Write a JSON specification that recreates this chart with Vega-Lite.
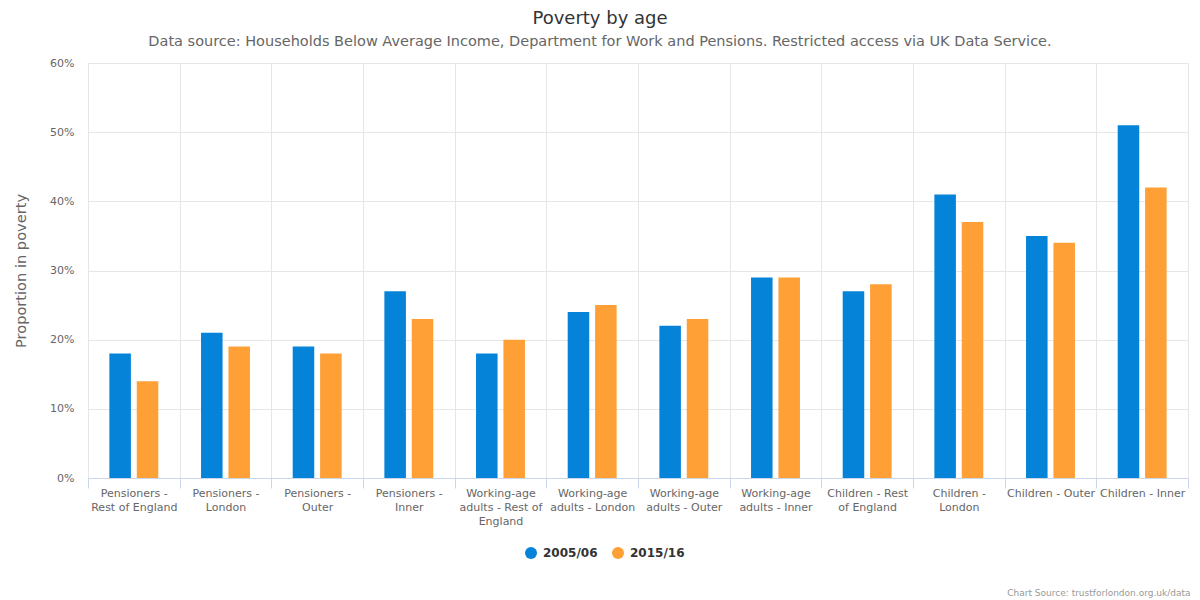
{
  "$schema": "https://vega.github.io/schema/vega-lite/v6.json",
  "autosize": "none",
  "width": 1100,
  "height": 415,
  "padding": {"left": 88, "top": 63, "right": 12, "bottom": 122},
  "background": "white",
  "config": {
    "font": "DejaVu Sans",
    "view": {"stroke": null}
  },
  "title": {
    "text": "Poverty by age",
    "subtitle": "Data source: Households Below Average Income, Department for Work and Pensions. Restricted access via UK Data Service.",
    "anchor": "middle",
    "dx": -38,
    "offset": 9,
    "fontSize": 18,
    "fontWeight": "normal",
    "color": "#333333",
    "subtitleFontSize": 14.5,
    "subtitleColor": "#666666",
    "subtitlePadding": 7
  },
  "data": {
    "values": [
      {"category": "Pensioners - Rest of England", "year": "2005/06", "value": 0.18},
      {"category": "Pensioners - Rest of England", "year": "2015/16", "value": 0.14},
      {"category": "Pensioners - London", "year": "2005/06", "value": 0.21},
      {"category": "Pensioners - London", "year": "2015/16", "value": 0.19},
      {"category": "Pensioners - Outer", "year": "2005/06", "value": 0.19},
      {"category": "Pensioners - Outer", "year": "2015/16", "value": 0.18},
      {"category": "Pensioners - Inner", "year": "2005/06", "value": 0.27},
      {"category": "Pensioners - Inner", "year": "2015/16", "value": 0.23},
      {"category": "Working-age adults - Rest of England", "year": "2005/06", "value": 0.18},
      {"category": "Working-age adults - Rest of England", "year": "2015/16", "value": 0.20},
      {"category": "Working-age adults - London", "year": "2005/06", "value": 0.24},
      {"category": "Working-age adults - London", "year": "2015/16", "value": 0.25},
      {"category": "Working-age adults - Outer", "year": "2005/06", "value": 0.22},
      {"category": "Working-age adults - Outer", "year": "2015/16", "value": 0.23},
      {"category": "Working-age adults - Inner", "year": "2005/06", "value": 0.29},
      {"category": "Working-age adults - Inner", "year": "2015/16", "value": 0.29},
      {"category": "Children - Rest of England", "year": "2005/06", "value": 0.27},
      {"category": "Children - Rest of England", "year": "2015/16", "value": 0.28},
      {"category": "Children - London", "year": "2005/06", "value": 0.41},
      {"category": "Children - London", "year": "2015/16", "value": 0.37},
      {"category": "Children - Outer", "year": "2005/06", "value": 0.35},
      {"category": "Children - Outer", "year": "2015/16", "value": 0.34},
      {"category": "Children - Inner", "year": "2005/06", "value": 0.51},
      {"category": "Children - Inner", "year": "2015/16", "value": 0.42}
    ]
  },
  "mark": {"type": "bar"},
  "encoding": {
    "x": {
      "field": "category",
      "type": "nominal",
      "sort": null,
      "scale": {"paddingInner": 0, "paddingOuter": 0},
      "axis": {
        "title": "Chart Source: trustforlondon.org.uk/data",
        "titleX": 1102,
        "titleY": 114,
        "titleAlign": "right",
        "titleBaseline": "middle",
        "titleFontSize": 9,
        "titleFontWeight": "normal",
        "titleColor": "#999999",
        "labelAngle": 0,
        "labelFontSize": 11,
        "labelColor": "#666666",
        "labelLineHeight": 14,
        "labelBaseline": "top",
        "labelPadding": -1,
        "labelLimit": 200,
        "labelExpr": "{'Pensioners - Rest of England': ['Pensioners -', 'Rest of England'], 'Pensioners - London': ['Pensioners -', 'London'], 'Pensioners - Outer': ['Pensioners -', 'Outer'], 'Pensioners - Inner': ['Pensioners -', 'Inner'], 'Working-age adults - Rest of England': ['Working-age', 'adults - Rest of', 'England'], 'Working-age adults - London': ['Working-age', 'adults - London'], 'Working-age adults - Outer': ['Working-age', 'adults - Outer'], 'Working-age adults - Inner': ['Working-age', 'adults - Inner'], 'Children - Rest of England': ['Children - Rest', 'of England'], 'Children - London': ['Children -', 'London'], 'Children - Outer': 'Children - Outer', 'Children - Inner': 'Children - Inner'}[datum.value]",
        "tickBand": "extent",
        "ticks": true,
        "tickSize": 10,
        "tickColor": "#ccd6eb",
        "domainColor": "#ccd6eb",
        "grid": true,
        "gridColor": "#e6e6e6"
      }
    },
    "xOffset": {
      "field": "year",
      "type": "nominal",
      "scale": {"paddingInner": 0.214, "paddingOuter": 0.78}
    },
    "y": {
      "field": "value",
      "type": "quantitative",
      "scale": {"domain": [0, 0.6], "nice": false},
      "axis": {
        "title": "Proportion in poverty",
        "titleFontSize": 14.6,
        "titleFontWeight": "normal",
        "titleColor": "#666666",
        "titlePadding": 21,
        "values": [0, 0.1, 0.2, 0.3, 0.4, 0.5, 0.6],
        "format": ".0%",
        "labelFontSize": 11,
        "labelColor": "#666666",
        "labelPadding": 14,
        "ticks": false,
        "tickSize": 0,
        "domain": false,
        "grid": true,
        "gridColor": "#e6e6e6"
      }
    },
    "color": {
      "field": "year",
      "type": "nominal",
      "scale": {"domain": ["2005/06", "2015/16"], "range": ["#0583d8", "#fea036"]},
      "legend": {
        "title": null,
        "orient": "none",
        "direction": "horizontal",
        "legendX": 437,
        "legendY": 484,
        "symbolType": "circle",
        "symbolSize": 144,
        "symbolStrokeWidth": 0,
        "symbolOpacity": 1,
        "labelFontSize": 12,
        "labelFontWeight": "bold",
        "labelColor": "#333333",
        "labelOffset": 6,
        "columnPadding": 14
      }
    }
  }
}
